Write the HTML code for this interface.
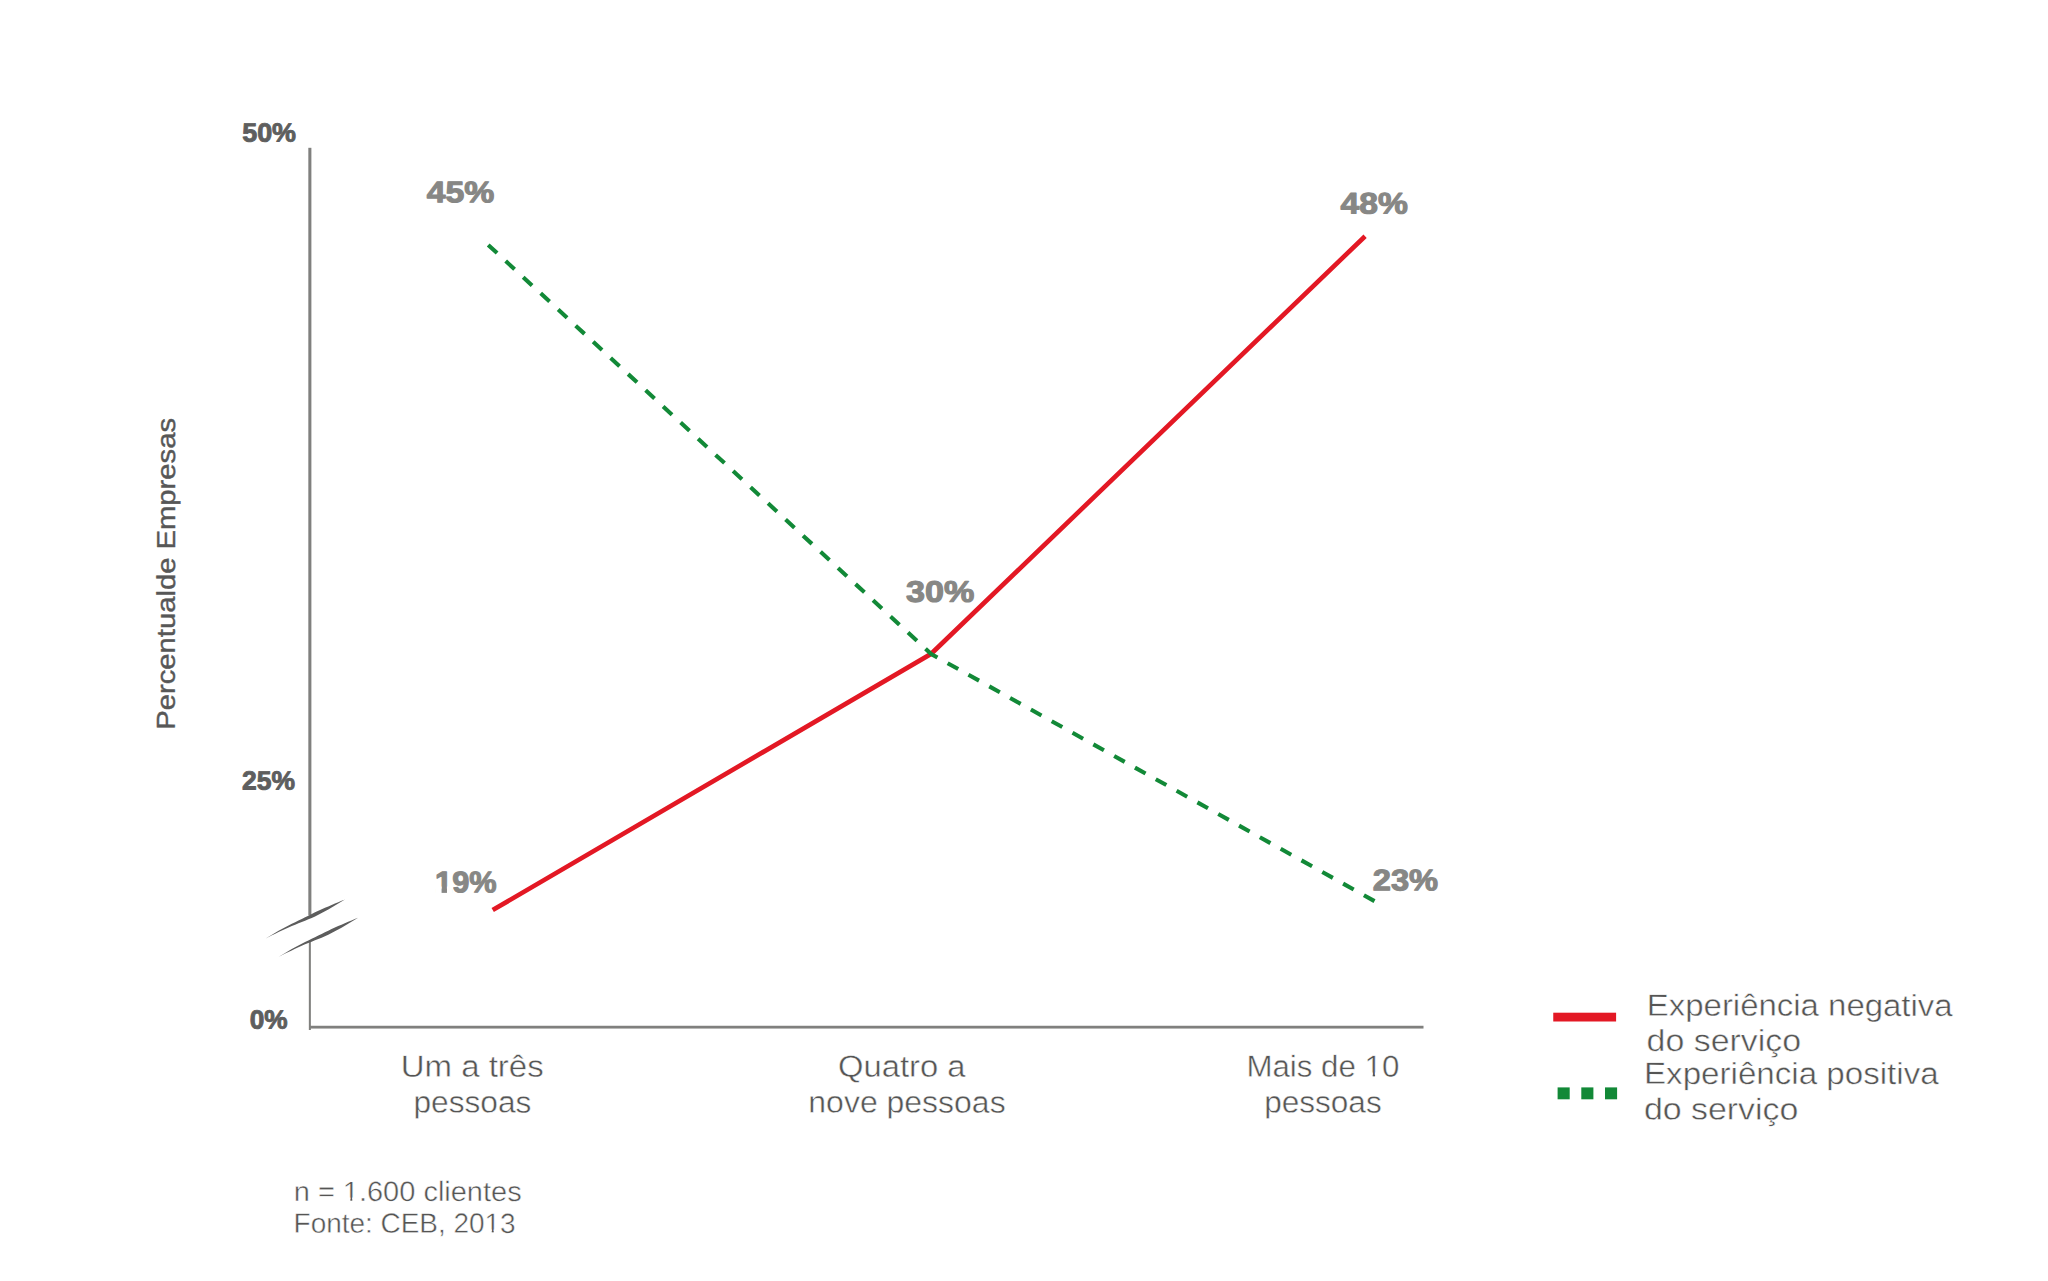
<!DOCTYPE html>
<html lang="pt-BR">
<head>
<meta charset="utf-8">
<title>Percentual de Empresas</title>
<style>
html,body{margin:0;padding:0;background:#fff;}
body{width:2048px;height:1281px;overflow:hidden;}
svg{display:block;}
text{font-family:"Liberation Sans",sans-serif;text-rendering:geometricPrecision;}
.b{font-weight:bold;}
</style>
</head>
<body>
<svg width="2048" height="1281" viewBox="0 0 2048 1281">
<rect x="0" y="0" width="2048" height="1281" fill="#ffffff"/>

<!-- axes -->
<rect x="308.33" y="147.8" width="3.06" height="767.7" fill="#80807e"/>
<rect x="308.84" y="941.5" width="2.03" height="88.5" fill="#80807e"/>
<rect x="309" y="1025.76" width="1114.5" height="2.8" fill="#80807e"/>
<path d="M265.30 938.70L268.62 936.64L271.93 934.64L275.25 932.70L278.57 930.81L281.88 928.96L285.20 927.15L288.52 925.39L291.83 923.72L295.15 922.14L298.47 920.56L301.78 918.94L305.10 917.29L308.42 915.64L311.73 913.98L315.05 912.33L318.37 910.71L321.68 909.24L325.00 907.80L328.32 906.38L331.63 904.97L334.95 903.56L338.27 902.15L341.58 900.77L344.90 899.40L341.58 901.50L338.27 903.56L334.95 905.56L331.63 907.50L328.32 909.39L325.00 911.24L321.68 913.04L318.37 914.80L315.05 916.39L311.73 917.92L308.42 919.33L305.10 920.65L301.78 921.96L298.47 923.33L295.15 924.68L291.83 926.06L288.52 927.50L285.20 929.01L281.88 930.54L278.57 932.10L275.25 933.69L271.93 935.32L268.62 936.99Z" fill="#5c5c5c"/>
<path d="M278.50 957.00L281.82 954.94L285.13 952.94L288.45 951.00L291.77 949.11L295.08 947.26L298.40 945.45L301.72 943.69L305.03 942.02L308.35 940.44L311.67 938.86L314.98 937.24L318.30 935.59L321.62 933.94L324.93 932.28L328.25 930.63L331.57 929.01L334.88 927.54L338.20 926.10L341.52 924.68L344.83 923.27L348.15 921.86L351.47 920.45L354.78 919.07L358.10 917.70L354.78 919.80L351.47 921.86L348.15 923.86L344.83 925.80L341.52 927.69L338.20 929.54L334.88 931.34L331.57 933.10L328.25 934.69L324.93 936.22L321.62 937.63L318.30 938.95L314.98 940.26L311.67 941.63L308.35 942.98L305.03 944.36L301.72 945.80L298.40 947.31L295.08 948.84L291.77 950.40L288.45 951.99L285.13 953.62L281.82 955.29Z" fill="#5c5c5c"/>
<polyline points="492.7,910.1 931.2,653.8 1365.1,236.2" fill="none" stroke="#e31824" stroke-width="4.65" stroke-linejoin="miter"/>
<path d="M488.20 244.90L497.09 253.11M505.69 261.05L514.58 269.26M523.18 277.21L532.07 285.42M540.68 293.36L549.57 301.57M558.17 309.51L567.06 317.72M575.66 325.67L584.55 333.88M593.15 341.82L602.04 350.03M610.65 357.98L619.54 366.18M628.14 374.13L637.03 382.34M645.63 390.28L654.52 398.49M663.12 406.44L672.01 414.65M680.61 422.59L689.50 430.80M698.11 438.74L707.00 446.95M715.60 454.90L724.49 463.11M733.09 471.05L741.98 479.26M750.58 487.21L759.47 495.41M768.08 503.36L776.97 511.57M785.57 519.51L794.46 527.72M803.06 535.67L811.95 543.88M820.55 551.82L829.44 560.03M838.05 567.97L846.93 576.18M855.54 584.13L864.43 592.34M873.03 600.28L881.92 608.49M890.52 616.43L899.41 624.64M908.01 632.59L916.90 640.80M947.65 663.17L958.22 669.06M968.46 674.77L979.03 680.66M989.28 686.37L999.84 692.26M1010.09 697.97L1020.66 703.87M1030.90 709.58L1041.47 715.47M1051.72 721.18L1062.29 727.07M1072.53 732.78L1083.10 738.67M1093.35 744.38L1103.92 750.27M1114.16 755.98L1124.73 761.88M1134.97 767.59L1145.54 773.48M1155.79 779.19L1166.36 785.08M1176.60 790.79L1187.17 796.68M1197.42 802.39L1207.99 808.28M1218.23 813.99L1228.80 819.89M1239.05 825.60L1249.61 831.49M1259.86 837.20L1270.43 843.09M1280.67 848.80L1291.24 854.69M1301.49 860.40L1312.06 866.29M1322.30 872.00L1332.87 877.90M1343.12 883.61L1353.69 889.50M1363.93 895.21L1374.50 901.10M925.51 648.74L931.20 654.00L937.40 657.46" fill="none" stroke="#128937" stroke-width="4.1"/>
<rect x="1553.25" y="1012.7" width="62.85" height="8.8" fill="#e31824"/>
<rect x="1557.6" y="1087.4" width="12.1" height="11.9" fill="#128937"/>
<rect x="1581.3" y="1087.4" width="12.1" height="11.9" fill="#128937"/>
<rect x="1605.0" y="1087.4" width="12.1" height="11.9" fill="#128937"/>
<!-- text -->
<text class="b" transform="translate(242.19 141.53) rotate(0.05) scale(1.0231 1)" font-size="26.3" fill="#5e5e5e" stroke="#5e5e5e" stroke-width="0.9" stroke-linejoin="round">50%</text>
<text class="b" transform="translate(242.10 789.53) rotate(0.05) scale(1.0058 1)" font-size="26.3" fill="#5e5e5e" stroke="#5e5e5e" stroke-width="0.9" stroke-linejoin="round">25%</text>
<text class="b" transform="translate(249.70 1028.53) rotate(0.05) scale(0.9960 1)" font-size="26.3" fill="#5e5e5e" stroke="#5e5e5e" stroke-width="0.9" stroke-linejoin="round">0%</text>
<text class="b" transform="translate(426.80 202.17) rotate(0.05) scale(1.1325 1)" font-size="29.8" fill="#878785" stroke="#878785" stroke-width="1.1" stroke-linejoin="round">45%</text>
<text class="b" transform="translate(1340.60 213.47) rotate(0.05) scale(1.1274 1)" font-size="29.8" fill="#878785" stroke="#878785" stroke-width="1.1" stroke-linejoin="round">48%</text>
<text class="b" transform="translate(906.11 601.82) rotate(0.05) scale(1.1441 1)" font-size="29.8" fill="#878785" stroke="#878785" stroke-width="1.1" stroke-linejoin="round">30%</text>
<text class="b" transform="translate(435.11 892.22) rotate(0.05) scale(1.0310 1)" font-size="29.8" fill="#878785" stroke="#878785" stroke-width="1.1" stroke-linejoin="round">19%</text>
<text class="b" transform="translate(1372.75 890.22) rotate(0.05) scale(1.0945 1)" font-size="29.8" fill="#878785" stroke="#878785" stroke-width="1.1" stroke-linejoin="round">23%</text>
<text transform="translate(400.70 1076.69) rotate(0.05) scale(1.0815 1)" font-size="30.5" fill="#555554" stroke="#ffffff" stroke-width="0.45">Um a três</text>
<text transform="translate(413.46 1112.55) rotate(0.05) scale(1.0382 1)" font-size="30.5" fill="#555554" stroke="#ffffff" stroke-width="0.45">pessoas</text>
<text transform="translate(838.02 1076.70) rotate(0.05) scale(1.0741 1)" font-size="30.5" fill="#555554" stroke="#ffffff" stroke-width="0.45">Quatro a</text>
<text transform="translate(808.34 1112.52) rotate(0.05) scale(1.0482 1)" font-size="30.5" fill="#555554" stroke="#ffffff" stroke-width="0.45">nove pessoas</text>
<text transform="translate(1246.38 1076.69) rotate(0.05) scale(1.0248 1)" font-size="30.5" fill="#555554" stroke="#ffffff" stroke-width="0.45">Mais de 10</text>
<text transform="translate(1264.17 1112.55) rotate(0.05) scale(1.0345 1)" font-size="30.5" fill="#555554" stroke="#ffffff" stroke-width="0.45">pessoas</text>
<text transform="translate(1646.83 1015.67) rotate(0.05) scale(1.0798 1)" font-size="30.5" fill="#555554" stroke="#ffffff" stroke-width="0.45">Experiência negativa</text>
<text transform="translate(1646.58 1050.93) rotate(0.05) scale(1.1110 1)" font-size="30.5" fill="#555554" stroke="#ffffff" stroke-width="0.45">do serviço</text>
<text transform="translate(1644.01 1083.87) rotate(0.05) scale(1.0863 1)" font-size="30.5" fill="#555554" stroke="#ffffff" stroke-width="0.45">Experiência positiva</text>
<text transform="translate(1643.93 1119.53) rotate(0.05) scale(1.1110 1)" font-size="30.5" fill="#555554" stroke="#ffffff" stroke-width="0.45">do serviço</text>
<text transform="translate(293.72 1200.90) rotate(0.05) scale(1.0422 1)" font-size="27.8" fill="#555554" stroke="#ffffff" stroke-width="0.45">n = 1.600 clientes</text>
<text transform="translate(293.59 1232.70) rotate(0.05) scale(1.0046 1)" font-size="27.8" fill="#555554" stroke="#ffffff" stroke-width="0.45">Fonte: CEB, 2013</text>
<text transform="translate(174.77 729.76) rotate(-89.95) scale(1.1299 1)" font-size="25.87" fill="#575757" stroke="#575757" stroke-width="0.4" stroke-linejoin="round">Percentualde Empresas</text>
<!-- hide the foot serif of the digit 1 (reference typeface has a plain 1) -->
<rect x="435.40" y="886.50" width="6.18" height="8.00" fill="#ffffff"/>
<rect x="446.98" y="886.50" width="5.62" height="8.00" fill="#ffffff"/>
<rect x="1365.40" y="1072.50" width="7.29" height="6.00" fill="#ffffff"/>
<rect x="1375.07" y="1072.50" width="6.53" height="6.00" fill="#ffffff"/>
<rect x="343.40" y="1197.50" width="6.95" height="5.00" fill="#ffffff"/>
<rect x="352.29" y="1197.50" width="6.31" height="5.00" fill="#ffffff"/>
<rect x="485.40" y="1229.50" width="6.35" height="4.00" fill="#ffffff"/>
<rect x="493.72" y="1229.50" width="5.88" height="4.00" fill="#ffffff"/>
</svg>
</body>
</html>
